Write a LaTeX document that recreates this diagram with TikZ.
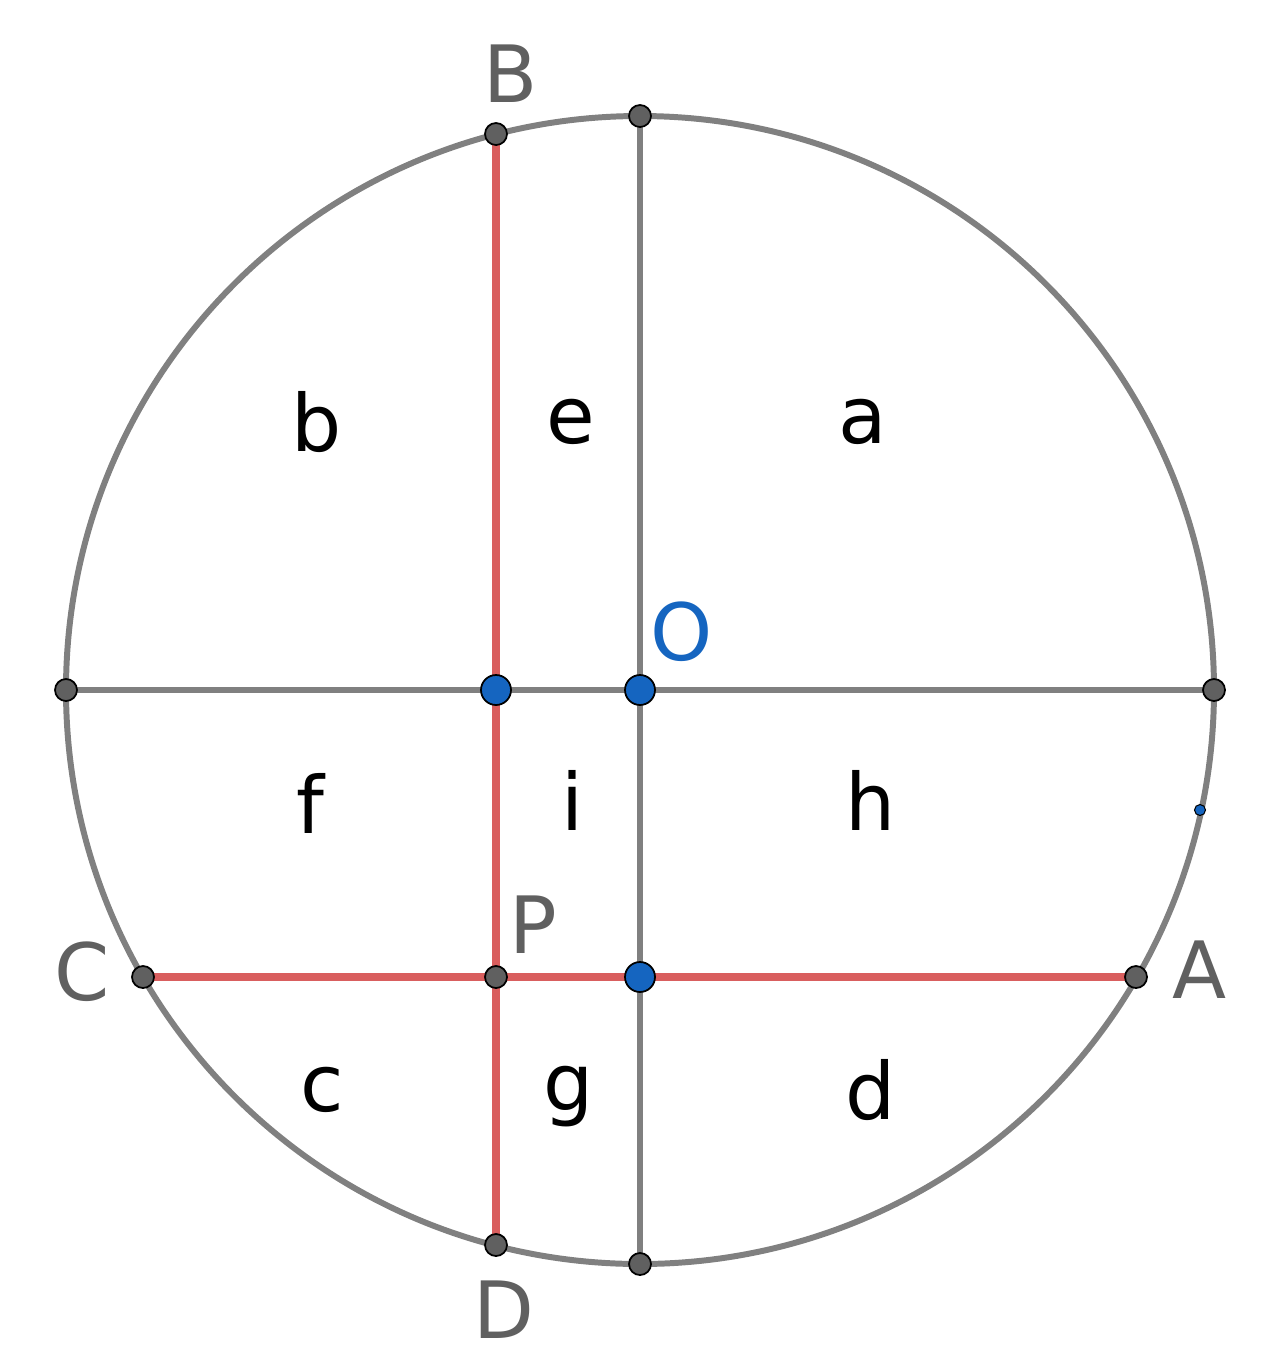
\documentclass[tikz,border=0pt]{standalone}
\usepackage{fontspec}
\setmainfont{DejaVu Sans}
\begin{document}
\begin{tikzpicture}[x=0.02cm,y=-0.02cm,
  gline/.style={line width=3.4pt,color={rgb,255:red,128;green,128;blue,128}},
  rline/.style={line width=4.4pt,color={rgb,255:red,217;green,94;blue,94}},
  gpt/.style={circle,draw=black,line width=1pt,fill={rgb,255:red,96;green,96;blue,96},inner sep=0pt,minimum size=0.44cm},
  bpt/.style={circle,draw=black,line width=1pt,fill={rgb,255:red,21;green,101;blue,192},inner sep=0pt,minimum size=0.6cm},
  reg/.style={font=\fontsize{45}{50}\selectfont,text=black},
  lab/.style={font=\fontsize{45}{50}\selectfont,text={rgb,255:red,96;green,96;blue,96}}]
\useasboundingbox (0,0) rectangle (1274,1370);
\coordinate (O) at (640,690);
\draw[gline] (O) circle (574);
\coordinate (T) at (640,116); \coordinate (Bt) at (640,1264);
\coordinate (L) at (66,690); \coordinate (R) at (1214,690);
\coordinate (B) at (496,134); \coordinate (D) at (496,1245);
\coordinate (C) at (143,977); \coordinate (A) at (1136,977);
\coordinate (P) at (496,977); \coordinate (Q) at (496,690); \coordinate (S) at (640,977);
\draw[gline] (T) -- (Bt);
\draw[gline] (L) -- (R);
\draw[rline] (B) -- (D);
\draw[rline] (C) -- (A);
\foreach \p in {T,Bt,L,R,B,D,C,A,P} \node[gpt] at (\p) {};
\foreach \p in {O,Q,S} \node[bpt] at (\p) {};
\node[circle,draw=black,line width=0.6pt,fill={rgb,255:red,21;green,101;blue,192},inner sep=0pt,minimum size=0.22cm] (sm) at (1200,810) {};
\node[lab] (lB) at (511,74) {B};
\node[lab] (lC) at (82,972) {C};
\node[lab] (lD) at (504,1310) {D};
\node[lab] (lA) at (1200,970) {A};
\node[lab] (lP) at (533,925) {P};
\node[font=\fontsize{45}{50}\selectfont,text={rgb,255:red,21;green,101;blue,192}] (lO) at (682,632) {O};
\node[reg] at (317,422) {b};
\node[reg] at (571,422) {e};
\node[reg] at (863,422) {a};
\node[reg] at (310,803) {f};
\node[reg] at (572,800) {i};
\node[reg] at (871,800) {h};
\node[reg] at (322,1090) {c};
\node[reg] at (569,1097) {g};
\node[reg] at (871,1090) {d};
\end{tikzpicture}
\end{document}
